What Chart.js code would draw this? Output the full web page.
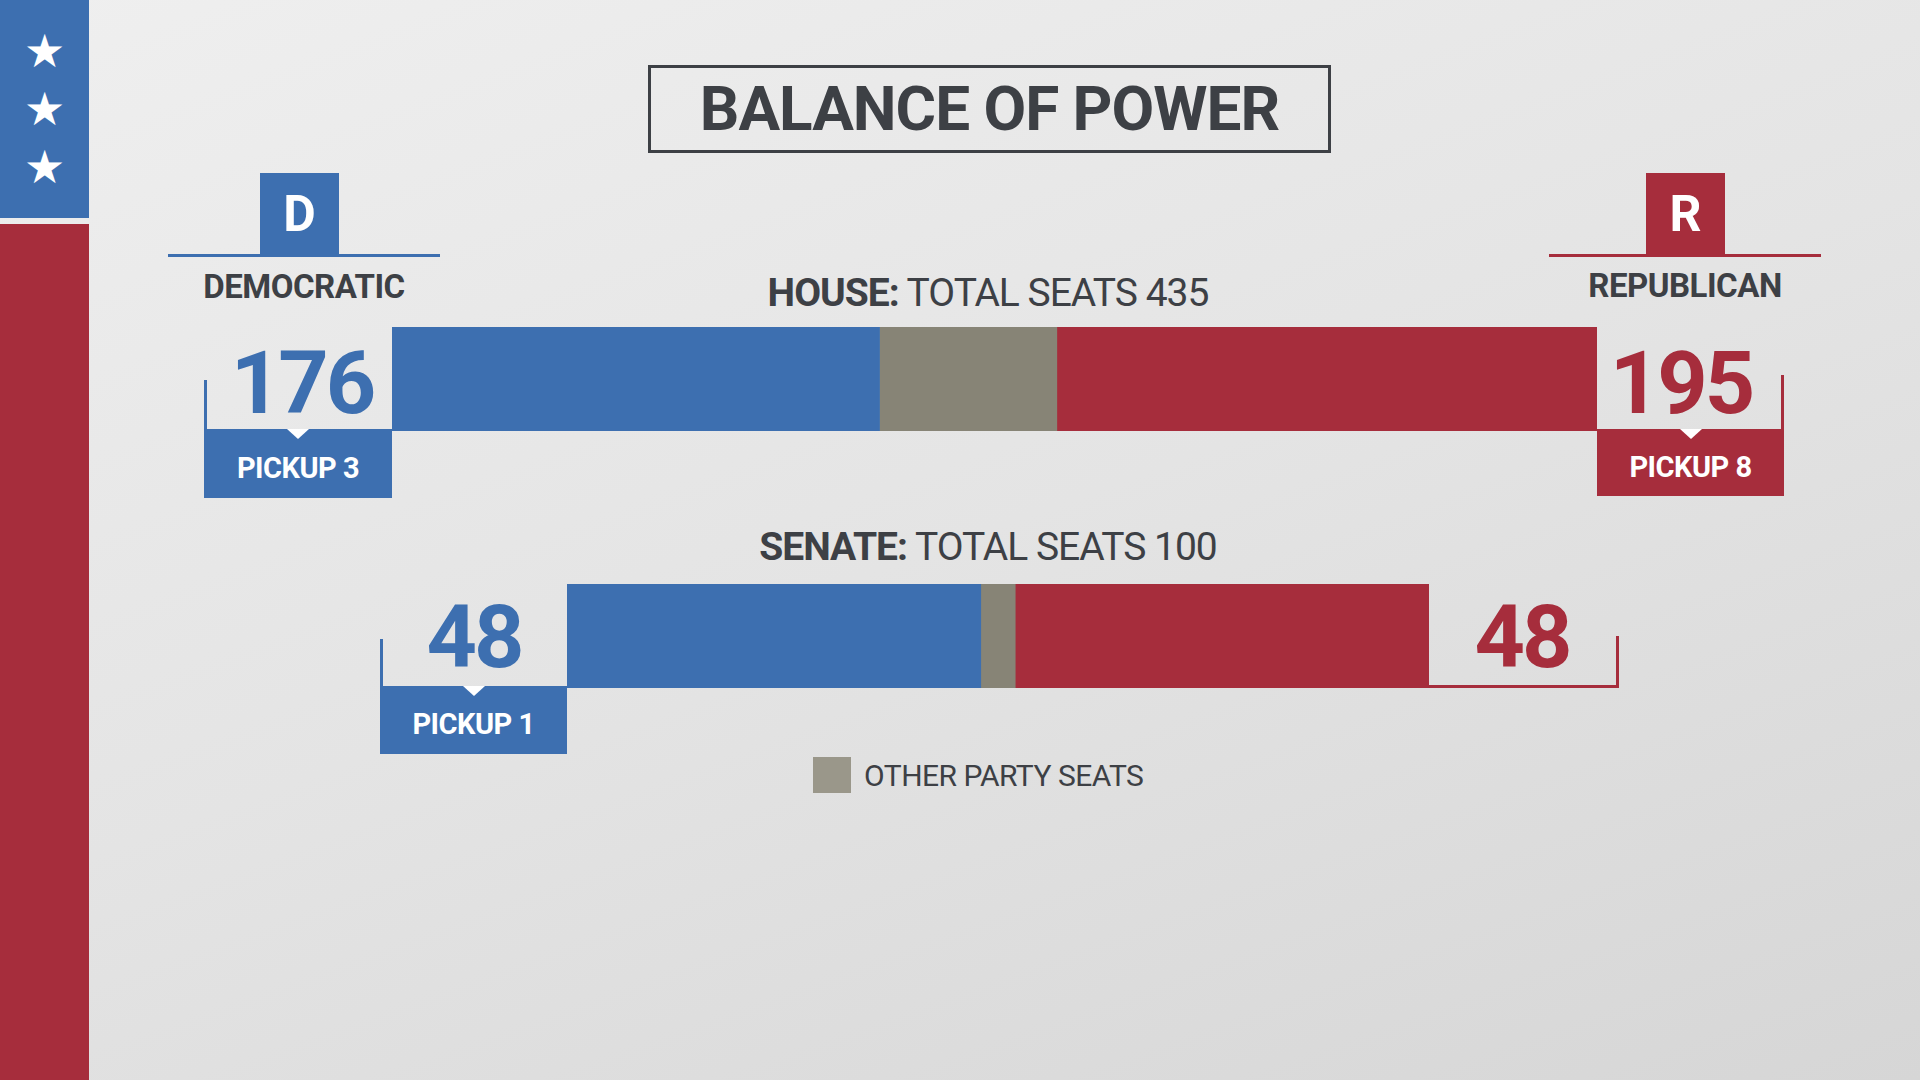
<!DOCTYPE html>
<html>
<head>
<meta charset="utf-8">
<script src="https://cdn.jsdelivr.net/npm/chart.js@4"></script>
<style>
  body { margin: 0; width: 1920px; height: 1080px; overflow: hidden;
    background: linear-gradient(160deg, #efefef 0%, #e4e4e4 50%, #d6d6d6 100%);
    font-family: Roboto, "Noto Sans", sans-serif; color: #3d4045; position: relative; }
  .abs { position: absolute; }
  .stripe-blue { left: 0; top: 0; width: 89px; height: 218px; background: #3d6fb0; }
  .stripe-red { left: 0; top: 224px; width: 89px; height: 856px; background: #a62d3c; }
  .star { left: 0; width: 89px; text-align: center; color: #fff; font-size: 46px; line-height: 46px; }
  .c { transform: translate(-50%, -50%); white-space: nowrap; }
  .title { left: 648px; top: 65px; width: 677px; height: 82px; border: 3px solid #3d4045;
    text-align: center; line-height: 82px; font-size: 62px; font-weight: 700; letter-spacing: -1px; }
  .pbox { color: #fff; font-weight: 700; font-size: 50px; text-align: center; }
  .line { height: 3px; }
  .pname { font-weight: 700; font-size: 33px; letter-spacing: -0.5px; }
  .chamber { font-size: 39px; letter-spacing: -1px; }
  .chamber b { font-weight: 700; }
  .num { font-weight: 700; font-size: 88px; letter-spacing: -3px; }
  .pick { color: #fff; font-weight: 700; font-size: 29px; text-align: center; letter-spacing: -0.5px; }
  .pick::before { content: ""; position: absolute; left: 50%; top: 0; margin-left: -11px;
    border-left: 11px solid transparent; border-right: 11px solid transparent; border-top: 10px solid #fff; }
</style>
</head>
<body>
<div class="abs stripe-blue"></div>
<div class="abs stripe-red"></div>
<div class="abs star" style="top:28px">★</div>
<div class="abs star" style="top:86px">★</div>
<div class="abs star" style="top:144px">★</div>

<div class="abs title">BALANCE OF POWER</div>

<div class="abs pbox" style="left:260px;top:173px;width:79px;height:82px;line-height:82px;background:#3d6fb0">D</div>
<div class="abs line" style="left:168px;top:254px;width:272px;background:#3d6fb0"></div>
<div class="abs pname c" style="left:304px;top:286px">DEMOCRATIC</div>

<div class="abs pbox" style="left:1646px;top:173px;width:79px;height:82px;line-height:82px;background:#a62d3c">R</div>
<div class="abs line" style="left:1549px;top:254px;width:272px;background:#a62d3c"></div>
<div class="abs pname c" style="left:1685px;top:285px">REPUBLICAN</div>

<div class="abs chamber c" style="left:988px;top:293px"><b>HOUSE:</b> TOTAL SEATS 435</div>
<div class="abs chamber c" style="left:988px;top:547px"><b>SENATE:</b> TOTAL SEATS 100</div>

<div class="abs" style="left:392px;top:327px;width:1205px;height:104px"><canvas id="house"></canvas></div>
<div class="abs" style="left:567px;top:584px;width:862px;height:104px"><canvas id="senate"></canvas></div>

<!-- house left -->
<div class="abs num c" style="left:302px;top:382px;color:#3d6fb0">176</div>
<div class="abs" style="left:204px;top:380px;width:3px;height:50px;background:#3d6fb0"></div>
<div class="abs pick" style="left:204px;top:429px;width:188px;height:69px;line-height:78px;background:#3d6fb0">PICKUP 3</div>
<!-- house right -->
<div class="abs num c" style="left:1681px;top:382px;color:#a62d3c">195</div>
<div class="abs" style="left:1781px;top:375px;width:3px;height:55px;background:#a62d3c"></div>
<div class="abs pick" style="left:1597px;top:429px;width:187px;height:67px;line-height:76px;background:#a62d3c">PICKUP 8</div>
<!-- senate left -->
<div class="abs num c" style="left:474px;top:636px;color:#3d6fb0">48</div>
<div class="abs" style="left:380px;top:639px;width:3px;height:48px;background:#3d6fb0"></div>
<div class="abs pick" style="left:380px;top:686px;width:187px;height:68px;line-height:77px;background:#3d6fb0">PICKUP 1</div>
<!-- senate right -->
<div class="abs num c" style="left:1522px;top:636px;color:#a62d3c">48</div>
<div class="abs" style="left:1429px;top:685px;width:190px;height:3px;background:#a62d3c"></div>
<div class="abs" style="left:1616px;top:636px;width:3px;height:52px;background:#a62d3c"></div>

<div class="abs" style="left:813px;top:757px;width:38px;height:36px;background:#9a978a"></div>
<div class="abs" style="left:864px;top:775px;transform:translateY(-50%);font-size:30px;white-space:nowrap;letter-spacing:-0.5px">OTHER PARTY SEATS</div>

<script>
const parties = ["Democratic", "Other", "Republican"];
const partyColors = ["#3d6fb0", "#878476", "#a62d3c"];
const houseSeats = [176, 64, 195];
const senateSeats = [48, 4, 48];
const houseTotal = 435;
const senateTotal = 100;

function drawBar(id, seats, total) {
  new Chart(document.getElementById(id), {
    type: "bar",
    data: {
      labels: [""],
      datasets: parties.map((p, i) => ({
        label: p,
        data: [seats[i]],
        backgroundColor: partyColors[i],
        borderWidth: 0,
        barPercentage: 1,
        categoryPercentage: 1,
      })),
    },
    options: {
      indexAxis: "y",
      responsive: true,
      maintainAspectRatio: false,
      animation: false,
      layout: { padding: 0 },
      plugins: { legend: { display: false }, tooltip: { enabled: false } },
      scales: {
        x: { stacked: true, min: 0, max: total, display: false },
        y: { stacked: true, display: false },
      },
    },
  });
}

drawBar("house", houseSeats, houseTotal);
drawBar("senate", senateSeats, senateTotal);
</script>
</body>
</html>
